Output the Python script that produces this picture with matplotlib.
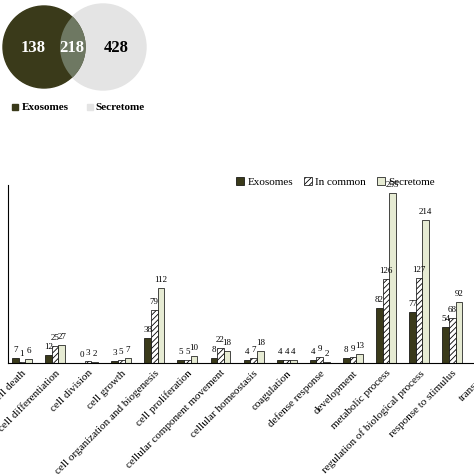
import numpy as np
import matplotlib
matplotlib.use("Agg")
import matplotlib.pyplot as plt
from matplotlib.patches import Circle, Rectangle

plt.rcParams['font.family'] = ['Liberation Serif', 'DejaVu Serif']
plt.rcParams['hatch.color'] = '#777777'
plt.rcParams['hatch.linewidth'] = 0.6

categories = ["cell death", "cell differentiation", "cell division", "cell growth",
              "cell organization and biogenesis", "cell proliferation",
              "cellular component movement", "cellular homeostasis", "coagulation",
              "defense response", "development", "metabolic process",
              "regulation of biological process", "response to stimulus", "transport"]
exosomes = [7, 12, 0, 3, 38, 5, 8, 4, 4, 4, 8, 82, 77, 54, np.nan]
in_common = [1, 25, 3, 5, 79, 5, 22, 7, 4, 9, 9, 126, 127, 68, np.nan]
secretome = [6, 27, 2, 7, 112, 10, 18, 18, 4, 2, 13, 255, 214, 92, np.nan]
venn_only_exo, venn_common, venn_only_sec = 138, 218, 428

fig = plt.figure(figsize=(4.74, 4.74), dpi=100)

# Venn overlay in pixel coords
va = fig.add_axes([0, 0, 1, 1])
va.set_xlim(0, 474); va.set_ylim(474, 0); va.axis('off')
va.add_patch(Circle((103, 47), 43, color='#e4e4e4', zorder=1))
va.add_patch(Circle((44, 47), 41, color='#3a3a1a', zorder=2))
clipc = Circle((103, 47), 43, transform=va.transData)
inter = Circle((44, 47), 41, color='#6e7862', zorder=3)
va.add_patch(inter); inter.set_clip_path(clipc)
va.text(33, 48, str(venn_only_exo), color='white', fontsize=12, fontweight='bold', ha='center', va='center', zorder=5)
va.text(72, 48, str(venn_common), color='white', fontsize=12, fontweight='bold', ha='center', va='center', zorder=5)
va.text(116, 48, str(venn_only_sec), color='black', fontsize=12, fontweight='bold', ha='center', va='center', zorder=5)
va.add_patch(Rectangle((12, 104), 6, 6, color='#3a3a1a'))
va.text(22, 107, "Exosomes", fontsize=8, fontweight='bold', va='center')
va.add_patch(Rectangle((87, 104), 6, 6, color='#e4e4e4'))
va.text(95, 107, "Secretome", fontsize=8, fontweight='bold', va='center')

# bar chart
px = 33.1
left = 8
ax = fig.add_axes([left / 474, (474 - 363) / 474, 15.0 * px / 474, (363 - 185) / 474])
x = np.arange(len(categories))
w = 0.2
b1 = ax.bar(x - w, exosomes, w, color='#3a3a1a', edgecolor='black', linewidth=0.5, label='Exosomes')
b2 = ax.bar(x, in_common, w, color='white', edgecolor='black', linewidth=0.5, hatch='//////', label='In common')
b3 = ax.bar(x + w, secretome, w, color='#e6ebd3', edgecolor='black', linewidth=0.5, label='Secretome')
for bars, vals in ((b1, exosomes), (b2, in_common), (b3, secretome)):
    for b, v in zip(bars, vals):
        if not np.isnan(v):
            ax.text(b.get_x() + b.get_width() / 2, v + 6, str(int(v)), ha='center', va='bottom', fontsize=6.5)
ax.set_xlim(-0.42, 14.58)
ax.set_ylim(0, 267)
ax.set_yticks([])
ax.set_xticks(x)
ax.set_xticklabels(categories, rotation=45, ha='right', rotation_mode='anchor', fontsize=8)
ax.tick_params(axis='x', length=0, pad=4)
for s in ('top', 'right'):
    ax.spines[s].set_visible(False)
ax.spines['left'].set_linewidth(0.8)
ax.spines['bottom'].set_linewidth(0.8)
ax.legend(loc='upper left', bbox_to_anchor=(0.44, 1.1), ncol=3, frameon=False, fontsize=8,
          handlelength=0.7, handleheight=0.7, columnspacing=1.0, handletextpad=0.3)

fig.savefig("out.png", dpi=100)
